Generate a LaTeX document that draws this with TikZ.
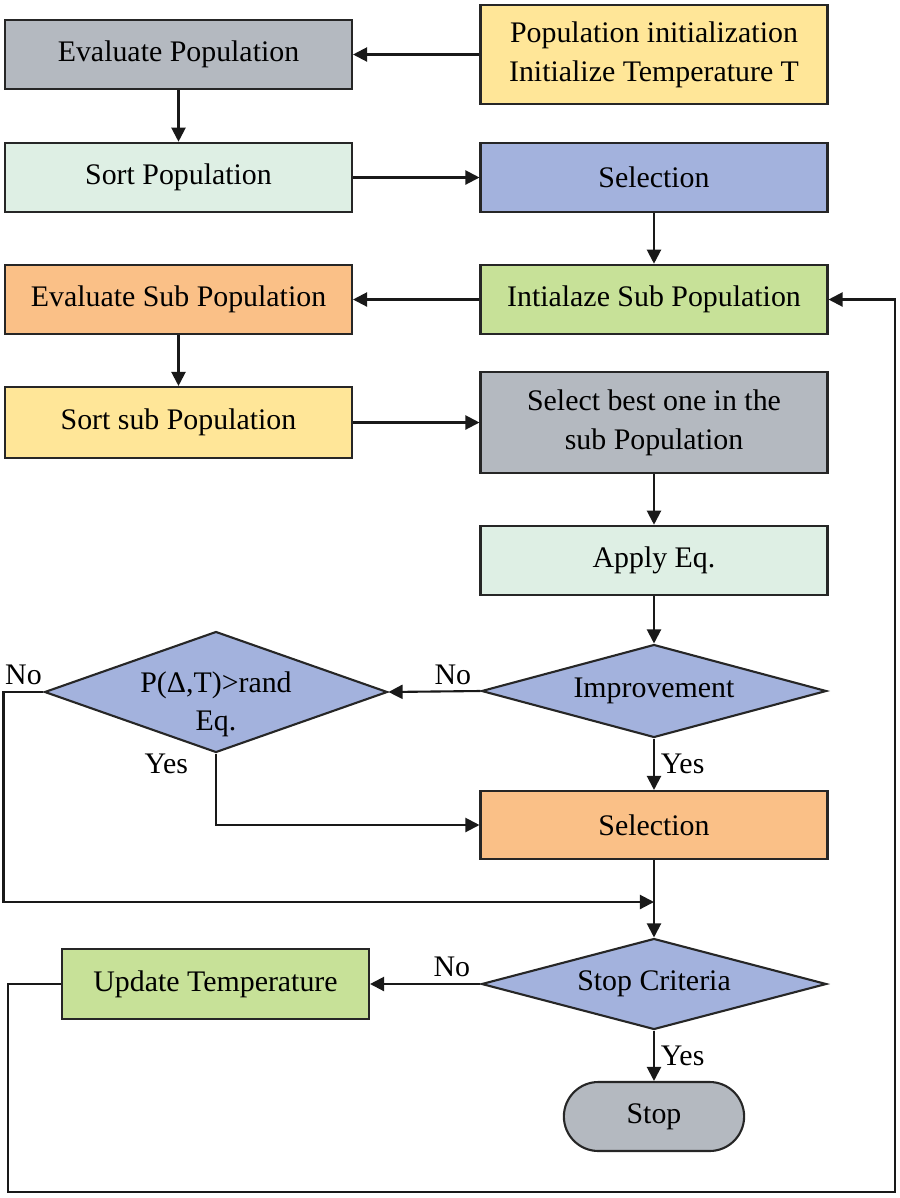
\documentclass[tikz,border=0pt]{standalone}
\usepackage{fontspec}
\setmainfont{Liberation Serif}
\usetikzlibrary{shapes,arrows.meta,positioning,calc}
\definecolor{boxgray}{RGB}{180,185,192}
\definecolor{boxyellow}{RGB}{255,230,152}
\definecolor{boxmint}{RGB}{222,239,228}
\definecolor{boxblue}{RGB}{163,178,221}
\definecolor{boxorange}{RGB}{250,192,135}
\definecolor{boxgreen}{RGB}{199,225,152}
\newcommand{\lowered}[1]{\raisebox{-7pt}[\height][\depth]{#1}}

\begin{document}
\begin{tikzpicture}[x=0.02cm, y=-0.02cm,
    font=\fontsize{17}{22}\selectfont,
    block/.style={draw=black!85, line width=1.2pt, minimum width=6.94cm, minimum height=1.39cm, align=center, inner sep=2pt},
    decision/.style={draw=black!85, line width=1.2pt, diamond, fill=boxblue, inner sep=-8pt, aspect=2.8, align=center},
    flow/.style={line width=1.2pt, draw=black!90, -{Triangle[length=8pt,width=8pt]}}]
    \useasboundingbox (0,0) rectangle (900,1198);

    % Top part
    \node[block, fill=boxgray] (evalpop) at (178.5,54.5) {Evaluate Population};
    \node[block, fill=boxyellow, minimum height=1.98cm] (popinit) at (654,54.5) {Population initialization\\Initialize Temperature T};
    \node[block, fill=boxmint] (sortpop) at (178.5,177.5) {Sort Population};
    \node[block, fill=boxblue] (select1) at (654,177.5) {Selection};
    \node[block, fill=boxorange] (evalsub) at (178.5,299.5) {Evaluate Sub Population};
    \node[block, fill=boxgreen] (initsub) at (654,299.5) {Intialaze Sub Population};
    \node[block, fill=boxyellow, minimum height=1.42cm] (sortsub) at (178.5,422.5) {Sort sub Population};
    \node[block, fill=boxgray, minimum height=2.02cm] (selbest) at (654,422.5) {Select best one in the\\sub Population};
    \node[block, fill=boxmint] (applyeq) at (654,560.5) {Apply Eq.};

    % Decisions
    \node[decision, minimum width=6.9cm, minimum height=1.86cm] (improve) at (654,691) {Improvement};
    \node[decision, minimum width=6.86cm, minimum height=2.42cm] (pcheck) at (216,692) {\lowered{P(Δ,T)>rand}\\\lowered{Eq.}};
    \node[block, fill=boxorange, minimum height=1.36cm] (select2) at (654,825) {Selection};
    \node[decision, minimum width=6.9cm, minimum height=1.82cm] (stopcrit) at (654,984) {Stop Criteria};
    \node[block, fill=boxgreen, minimum width=6.14cm, minimum height=1.4cm] (updtemp) at (215.5,984) {Update Temperature};
    \node[draw=black!85, line width=1.2pt, rounded rectangle, fill=boxgray, minimum width=3.84cm, minimum height=1.38cm] (stop) at (654,1116.5) {Stop};

    \coordinate (merge) at (654,902);
    \coordinate (retA) at (8,1192);
    \coordinate (retB) at (895,1192);

    % Connectors
    \draw[flow] (popinit.west) -- (evalpop.east);
    \draw[flow] (evalpop.south) -- (sortpop.north);
    \draw[flow] (sortpop.east) -- (select1.west);
    \draw[flow] (select1.south) -- (initsub.north);
    \draw[flow] (initsub.west) -- (evalsub.east);
    \draw[flow] (evalsub.south) -- (sortsub.north);
    \draw[flow] (sortsub.east) -- (selbest.west);
    \draw[flow] (selbest.south) -- (applyeq.north);
    \draw[flow] (applyeq.south) -- (improve.north);
    \draw[flow] (improve.west) -- node[pos=0.3, above] {No} (pcheck.east);
    \draw[flow] (improve.south) -- node[right] {Yes} (select2.north);
    \draw[flow] (pcheck.south) |- node[pos=0.07, left, xshift=-12pt] {Yes} (select2.west);
    \draw[flow] (pcheck.west) -- ++(-40,0) node[midway, above] {No} |- (merge);
    \draw[flow] (select2.south) -- (stopcrit.north);
    \draw[flow] (stopcrit.west) -- node[pos=0.26, above] {No} (updtemp.east);
    \draw[flow] (stopcrit.south) -- node[right] {Yes} (stop.north);
    \draw[flow] (updtemp.west) -| (retA) -- (retB) |- (initsub.east);
\end{tikzpicture}
\end{document}
